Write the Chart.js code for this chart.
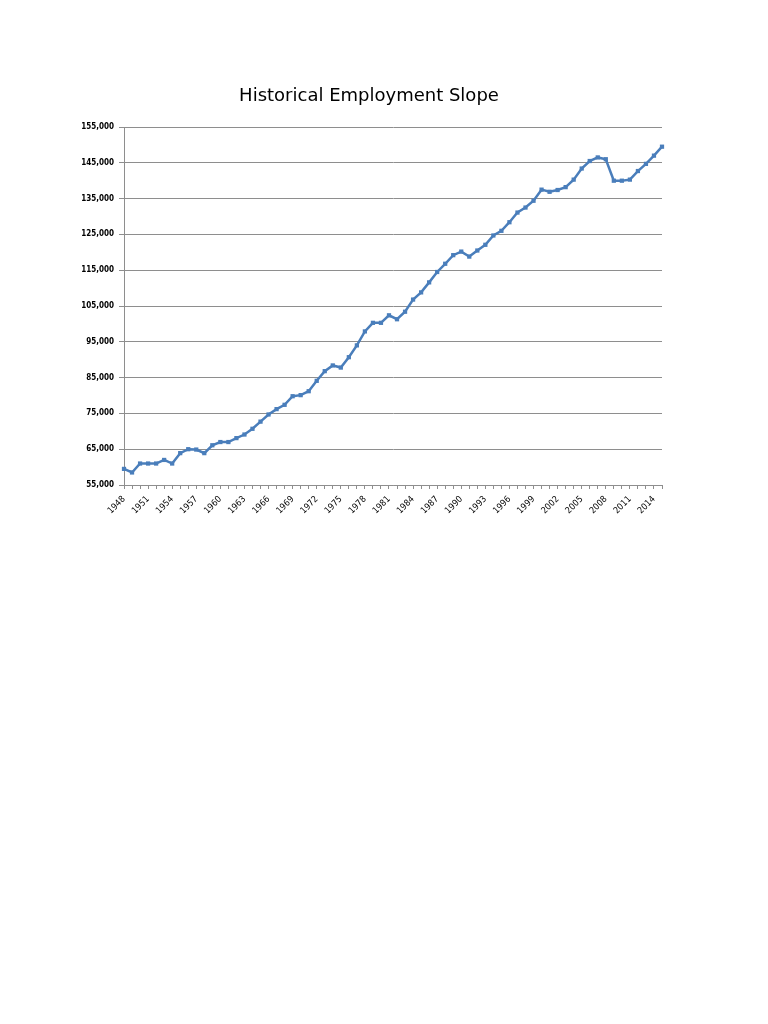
<!DOCTYPE html>
<html>
<head>
<meta charset="utf-8">
<style>
  html, body { margin: 0; padding: 0; background: #ffffff; }
  #wrap { width: 768px; height: 1024px; position: relative; }
</style>
<script src="https://cdn.jsdelivr.net/npm/chart.js@4/dist/chart.umd.min.js"></script>
</head>
<body>
<div id="wrap"><canvas id="c" width="768" height="1024"></canvas></div>
<script>
const chartTitle = "Historical Employment Slope";
const years = [
  "1948","1949","1950","1951","1952","1953","1954","1955","1956","1957",
  "1958","1959","1960","1961","1962","1963","1964","1965","1966","1967",
  "1968","1969","1970","1971","1972","1973","1974","1975","1976","1977",
  "1978","1979","1980","1981","1982","1983","1984","1985","1986","1987",
  "1988","1989","1990","1991","1992","1993","1994","1995","1996","1997",
  "1998","1999","2000","2001","2002","2003","2004","2005","2006","2007",
  "2008","2009","2010","2011","2012","2013","2014","2015"
];
const employment = [
  59500, 58500, 61000, 61000, 61000, 62000, 61000, 63900, 65000, 64900,
  63900, 66100, 67000, 67000, 68100, 69100, 70700, 72700, 74700, 76200,
  77400, 79800, 80100, 81200, 84100, 86800, 88400, 87800, 90700, 94000,
  97900, 100300, 100300, 102400, 101300, 103400, 106800, 108800, 111600, 114500,
  116800, 119200, 120200, 118800, 120500, 122100, 124700, 126000, 128400, 131100,
  132500, 134400, 137500, 136900, 137400, 138200, 140300, 143400, 145500, 146500,
  146000, 140000, 140000, 140300, 142700, 144700, 147000, 149500
];
const yMin = 55000, yMax = 155000, yStep = 10000;

new Chart(document.getElementById('c'), {
  type: 'line',
  data: {
    labels: years,
    datasets: [{
      label: 'Employment',
      data: employment,
      yAxisID: 'y',
      borderColor: '#4a7ebb',
      backgroundColor: '#4a7ebb',
      borderWidth: 2.5,
      pointStyle: 'rect',
      pointRadius: 3,
      pointBorderWidth: 0,
      pointBackgroundColor: '#4a7ebb',
      tension: 0,
      fill: false
    }]
  },
  options: {
    responsive: false,
    animation: false,
    devicePixelRatio: 1,
    layout: { padding: { left: 0, right: 30, top: 0, bottom: 489 } },
    plugins: {
      legend: { display: false },
      tooltip: { enabled: false },
      title: {
        display: true,
        text: chartTitle,
        color: '#000000',
        font: { family: 'DejaVu Sans', size: 18, weight: 'normal', lineHeight: 1.2 },
        padding: { top: 86, bottom: 19.4 }
      }
    },
    scales: {
      x: {
        offset: false,
        afterFit: (s) => { s.height = 50; },
        grid: {
          display: true,
          drawOnChartArea: false,
          drawTicks: true,
          tickLength: 4,
          color: '#8e8e8e'
        },
        border: { display: true, color: '#8e8e8e', width: 1 },
        ticks: {
          autoSkip: false,
          maxRotation: 45,
          minRotation: 45,
          padding: 5,
          color: '#000000',
          font: { family: 'DejaVu Sans Condensed', size: 9 },
          callback: function(value, index) {
            return index % 3 === 0 ? this.getLabelForValue(value) : '';
          }
        }
      },
      y: {
        position: 'left',
        min: yMin,
        max: yMax,
        afterFit: (s) => { s.width = 124; },
        grid: {
          color: '#8e8e8e',
          lineWidth: 1,
          drawTicks: true,
          tickLength: 5
        },
        border: { display: true, color: '#8e8e8e', width: 1 },
        ticks: {
          stepSize: yStep,
          padding: 5,
          color: '#000000',
          font: { family: 'DejaVu Sans Condensed', size: 8, weight: 'bold' },
          callback: (v) => v.toLocaleString('en-US')
        }
      },
      spacer: {
        type: 'linear',
        position: 'right',
        display: true,
        min: 0,
        max: 1,
        afterFit: (s) => { s.width = 76; },
        grid: { display: false, drawOnChartArea: false },
        border: { display: false },
        ticks: { display: false }
      }
    }
  }
});
</script>
</body>
</html>
